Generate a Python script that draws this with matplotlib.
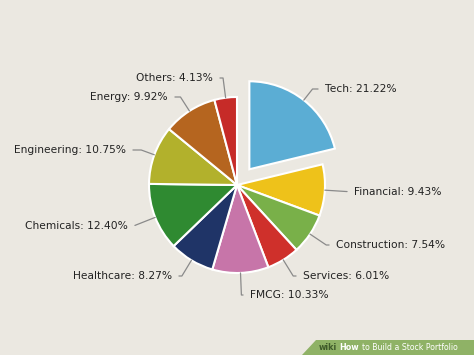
import numpy as np
import matplotlib.pyplot as plt
from matplotlib.patches import Polygon

sectors = ['Tech', 'Financial', 'Construction', 'Services', 'FMCG',
           'Healthcare', 'Chemicals', 'Engineering', 'Energy', 'Others']
shares = [21.22, 9.43, 7.54, 6.01, 10.33, 8.27, 12.40, 10.75, 9.92, 4.13]
colors = ['#5badd4', '#eec21a', '#79b049', '#cf302b', '#c775a9',
          '#1f3467', '#2f8a31', '#b2b12c', '#b5651f', '#c62b28']
# pie() takes explode in data units here (radius is 88)
explode = [20, 0, 0, 0, 0, 0, 0, 0, 0, 0]

# where the label text sits (pixel-ish coords, y measured from top)
label_pos = [(325, 89), (354, 192), (336, 245), (303, 276), (250, 295),
             (172, 276), (128, 226), (126, 150), (168, 97), (213, 78)]

W, H = 474, 355
bg = '#ebe8e1'
fig = plt.figure(figsize=(W / 100, H / 100), dpi=100, facecolor=bg)
ax = fig.add_axes([0, 0, 1, 1])
ax.set_xlim(0, W)
ax.set_ylim(0, H)
ax.set_aspect('equal')
ax.axis('off')

cx, cy, r = 237, H - 185, 88
wedges, _ = ax.pie(shares, colors=colors, explode=explode, startangle=90,
                   counterclock=False, center=(cx, cy), radius=r,
                   wedgeprops=dict(edgecolor='white', linewidth=1.5))
ax.set_xlim(0, W)
ax.set_ylim(0, H)

for w, name, val, (tx, ty) in zip(wedges, sectors, shares, label_pos):
    mid = np.deg2rad((w.theta1 + w.theta2) / 2)
    wx, wy = w.center
    px = wx + r * np.cos(mid)
    py = wy + r * np.sin(mid)
    right = tx > cx
    ha = 'left' if right else 'right'
    conn = 'angle,angleA=0,angleB=%.1f,rad=0' % np.rad2deg(mid)
    if name == 'Financial':
        conn = 'arc3,rad=0'
    ax.annotate('%s: %.2f%%' % (name, val), xy=(px, py), xytext=(tx, H - ty),
                ha=ha, va='center', fontsize=7.7, color='#222222',
                arrowprops=dict(arrowstyle='-', color='#8a8a8a', lw=0.9,
                                connectionstyle=conn,
                                relpos=(0, 0.5) if right else (1, 0.5),
                                shrinkA=3, shrinkB=0))

# watermark banner
ax.add_patch(Polygon([(302, 0), (474, 0), (474, 15), (316, 15)],
                     closed=True, facecolor='#8fb266', edgecolor='none'))
ax.text(319, 7, 'wiki', fontsize=5.8, fontweight='bold', color='#3f5a2a',
        va='center', ha='left')
ax.text(339, 7, 'How', fontsize=5.8, fontweight='bold', color='white',
        va='center', ha='left')
ax.text(362, 7, 'to Build a Stock Portfolio', fontsize=5.6, color='white',
        va='center', ha='left')

fig.savefig('out.png', dpi=100, facecolor=bg)
